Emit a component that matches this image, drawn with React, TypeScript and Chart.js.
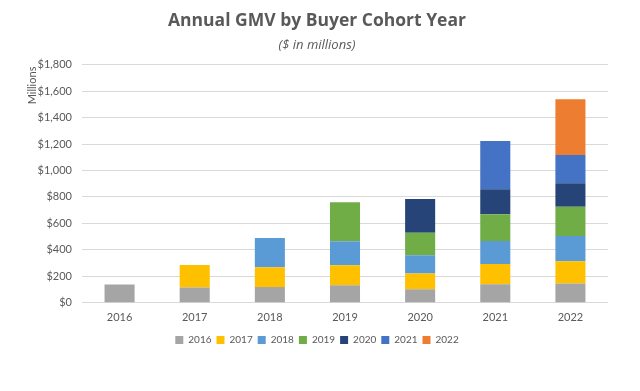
import React, { useEffect, useRef } from "react";
import { Chart, registerables } from "chart.js";

Chart.register(...registerables);

const categories = ["2016", "2017", "2018", "2019", "2020", "2021", "2022"];
const cohorts = ["2016", "2017", "2018", "2019", "2020", "2021", "2022"];
const cohort2016 = [138, 115, 120, 133, 103, 141, 145];
const cohort2017 = [0, 170, 149, 151, 118, 153, 169];
const cohort2018 = [0, 0, 220, 181, 138, 173, 191];
const cohort2019 = [0, 0, 0, 295, 170, 203, 220];
const cohort2020 = [0, 0, 0, 0, 256, 189, 179];
const cohort2021 = [0, 0, 0, 0, 0, 363, 213];
const cohort2022 = [0, 0, 0, 0, 0, 0, 421];
const seriesValues = [cohort2016, cohort2017, cohort2018, cohort2019, cohort2020, cohort2021, cohort2022];
const colors = ["#A5A5A5", "#FFC000", "#5B9BD5", "#70AD47", "#264478", "#4472C4", "#ED7D31"];
const yTicks = [0, 200, 400, 600, 800, 1000, 1200, 1400, 1600, 1800];

const TITLE_FONT = "'Open Sans', 'Noto Sans', sans-serif";
const FONT = "Lato, 'Open Sans', sans-serif";
const TEXT = "#595959";

const yTitlePlugin = {
  id: "yTitleTop",
  afterDraw(chart: any) {
    const { ctx, chartArea } = chart;
    ctx.save();
    ctx.fillStyle = TEXT;
    ctx.font = `11px ${FONT}`;
    ctx.textAlign = "right";
    ctx.textBaseline = "middle";
    ctx.translate(32, chartArea.top + 2);
    ctx.rotate(-Math.PI / 2);
    ctx.fillText("Millions", 0, 0);
    ctx.restore();
  },
};

export default function App() {
  const ref = useRef<HTMLCanvasElement | null>(null);
  useEffect(() => {
    document.body.style.margin = "0";
    const ctx = ref.current!;
    const chart = new Chart(ctx, {
      type: "bar",
      data: {
        labels: categories,
        datasets: cohorts.map((c, i) => ({
          label: c,
          data: seriesValues[i].map((v) => (v === 0 ? null : v)),
          backgroundColor: colors[i],
          borderWidth: 0,
          categoryPercentage: 1,
          barPercentage: 0.4,
        })),
      },
      options: {
        responsive: false,
        animation: false,
        devicePixelRatio: 1,
        layout: { padding: { left: 0, right: 6, top: 6, bottom: 36 } },
        plugins: {
          title: {
            display: true,
            text: "Annual GMV by Buyer Cohort Year",
            color: TEXT,
            font: { family: TITLE_FONT, size: 17.5, weight: "bold" },
            padding: { top: 5, bottom: 5 },
          },
          subtitle: {
            display: true,
            text: "($ in millions)",
            color: TEXT,
            font: { family: TITLE_FONT, size: 13, style: "italic" },
            padding: { top: 0, bottom: 12 },
          },
          legend: {
            position: "bottom",
            labels: {
              color: TEXT,
              font: { family: FONT, size: 10 },
              boxWidth: 8,
              boxHeight: 8,
              padding: 5,
            },
          },
          tooltip: { enabled: false },
        },
        scales: {
          x: {
            stacked: true,
            grid: { display: false },
            border: { display: false },
            ticks: { color: TEXT, font: { family: FONT, size: 11 }, padding: 0 },
            afterFit: (scale: any) => {
              scale.height += 6;
            },
          },
          y: {
            stacked: true,
            min: 0,
            max: 1800,
            afterBuildTicks: (scale: any) => {
              scale.ticks = yTicks.map((v) => ({ value: v }));
            },
            afterFit: (scale: any) => {
              scale.width = 82;
            },
            grid: { color: "#D9D9D9", lineWidth: 1, drawTicks: false },
            border: { display: false },
            ticks: {
              color: TEXT,
              font: { family: FONT, size: 11 },
              padding: 10,
              callback: (v: any) => "$" + Number(v).toLocaleString("en-US"),
            },
          },
          yRight: {
            type: "linear",
            position: "right",
            min: 0,
            max: 1800,
            grid: { display: false, drawTicks: false },
            border: { display: false },
            ticks: { display: false },
            afterFit: (scale: any) => {
              scale.width = 26;
            },
          },
        },
      },
      plugins: [yTitlePlugin],
    } as any);
    return () => chart.destroy();
  }, []);
  return (
    <div style={{ position: "absolute", left: 0, top: 0, width: 640, height: 391, background: "#fff" }}>
      <canvas ref={ref} width={640} height={391} style={{ width: 640, height: 391 }} />
    </div>
  );
}
